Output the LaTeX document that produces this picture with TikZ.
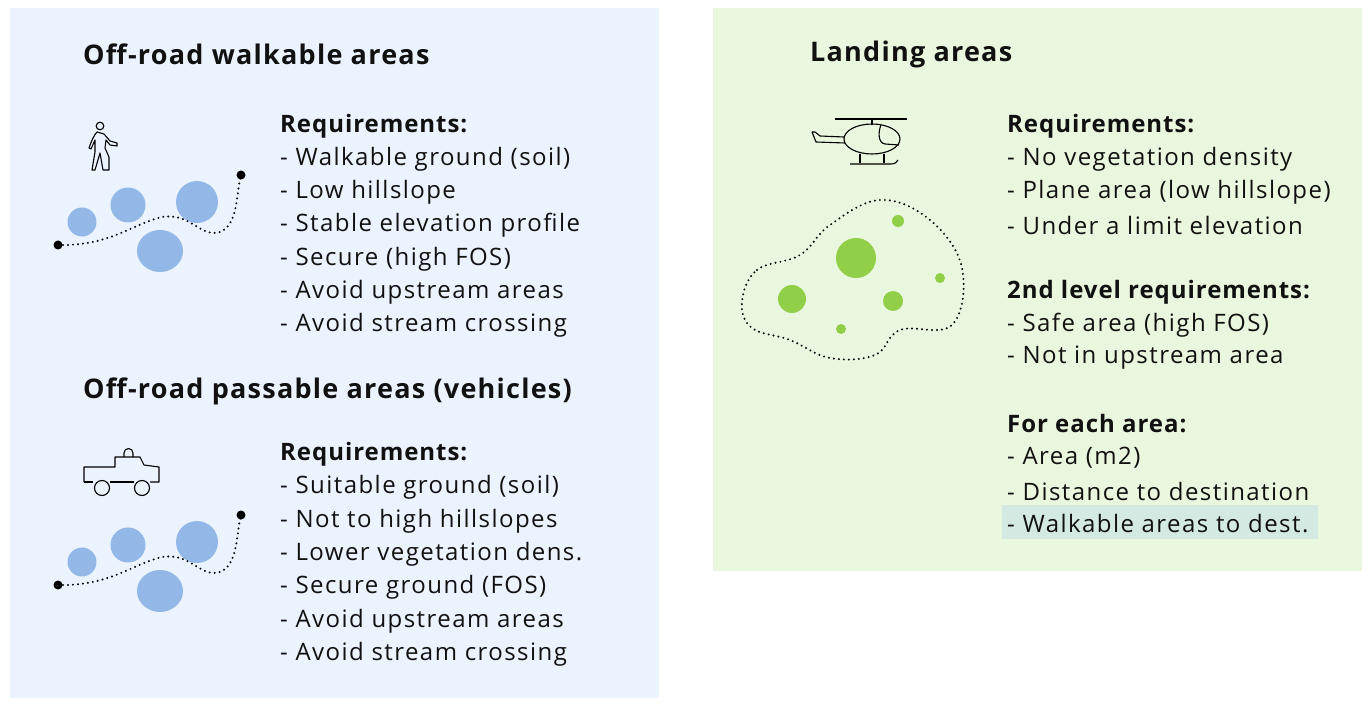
\documentclass[tikz,border=0pt]{standalone}
\usepackage{fontspec}
\setmainfont{Open Sans}
\definecolor{bluebg}{HTML}{EBF3FE}
\definecolor{greenbg}{HTML}{EAF7DF}
\definecolor{hl}{HTML}{D5E9E3}
\definecolor{bcirc}{HTML}{93B8E8}
\definecolor{gcirc}{HTML}{92CF48}
\definecolor{txt}{HTML}{111111}
\begin{document}
\begin{tikzpicture}[x=1pt,y=-1pt,
 head/.style={anchor=west,font=\addfontfeatures{LetterSpace=4.6}\fontsize{27}{30}\selectfont\bfseries,text=txt,inner sep=0},
 sub/.style={anchor=west,font=\addfontfeatures{LetterSpace=4}\fontsize{24}{26}\selectfont\bfseries,text=txt,inner sep=0},
 item/.style={anchor=west,font=\addfontfeatures{LetterSpace=6}\fontsize{24}{26}\selectfont,text=txt,inner sep=0},
 pathdot/.style={line width=2.2pt,dash pattern=on 0pt off 5pt,line cap=round},
 icon/.style={line width=1.1pt,line join=round}]
\useasboundingbox (0,0) rectangle (1370,708);
\fill[bluebg] (10,8) rectangle (659,698);
\fill[greenbg] (713,8) rectangle (1362,571);
\fill[hl] (1002,505) rectangle (1318,539);
\begin{scope}[yshift=-2]
% left texts
\node[head] (h1) at (83,52) {Off-road walkable areas};
\node[sub] (r1) at (280,124) {Requirements:};
\foreach \t [count=\i] in {Walkable ground (soil),Low hillslope,Stable elevation profile,Secure (high FOS),Avoid upstream areas,Avoid stream crossing}
  \node[item] (a\i) at (280,124+33.2*\i) {- \t};
\node[head] (h2) at (83,389) {Off-road passable areas (vehicles)};
\node[sub] (r2) at (280,452) {Requirements:};
\foreach \t [count=\i] in {Suitable ground (soil),Not to high hillslopes,Lower vegetation dens.,Secure ground (FOS),Avoid upstream areas,Avoid stream crossing}
  \node[item] (b\i) at (280,452+33.4*\i) {- \t};
% right texts
\node[head] (h3) at (810,52) {Landing areas};
\node[sub] (r3) at (1007,124) {Requirements:};
\foreach \t [count=\i] in {No vegetation density,Plane area (low hillslope),Under a limit elevation}
  \node[item] (c\i) at (1007,124+33.2*\i) {- \t};
\node[sub] (r4) at (1007,290) {2nd level requirements:};
\node[item] (d1) at (1007,323) {- Safe area (high FOS)};
\node[item] (d2) at (1007,356) {- Not in upstream area};
\node[sub] (r5) at (1007,422) {For each area:};
\node[item] (e1) at (1007,456) {- Area (m2)};
\node[item] (e2) at (1007,489) {- Distance to destination};
\node[item] (e3) at (1007,522) {- Walkable areas to dest.};
\end{scope}
% route drawings
\foreach \dy in {0,340}{
 \begin{scope}[yshift=-\dy]
 \fill[bcirc] (82,222) circle (14.5);
 \fill[bcirc] (128,205) circle (17.5);
 \fill[bcirc] (197,202) circle (21);
 \fill[bcirc] (160,251) ellipse (23 and 21);
 \draw[pathdot] (58,245) .. controls (110,246) and (130,225) .. (162,217) .. controls (190,212) and (200,238) .. (220,232) .. controls (238,225) and (236,195) .. (241,175);
 \fill (58,245) circle (4.5);
 \fill (241,175) circle (4.5);
 \end{scope}}
% walker
\begin{scope}[icon]
 \draw (100,126) circle (3.8);
 \draw (97,132) .. controls (94,135) and (91,142) .. (89,148) -- (91,149) -- (95,140) -- (95,152) -- (92,170) -- (95,170) -- (100,153) -- (103,170) -- (109,170) -- (109,157) -- (105,148) -- (106,140) -- (110,145) -- (117,146) -- (117,143) -- (110,141) -- (104,134) -- cycle;
\end{scope}
% car
\begin{scope}[icon]
 \draw (84,482) -- (84,467) -- (115,467) -- (115,457) -- (140,457) -- (144,465) -- (159,467) -- (159,482) -- (150,482);
 \draw (134,482) -- (110,482);
 \draw (93,482) -- (84,482);
 \draw (102,488) circle (7.5);
 \draw (142,488) circle (7.5);
 \draw (124,457) -- (124,453) arc[start angle=180,end angle=360,radius=4.5] -- (133,457);
\end{scope}
% helicopter
\begin{scope}[icon]
 \draw (835,119) -- (907,119);
 \draw (872,119) -- (872,125);
 \draw (872,139) ellipse (28 and 15);
 \draw (881,125) .. controls (878,132) and (878,143) .. (885,144) -- (899,145);
 \draw (844,137) -- (820,136) -- (815,132) -- (812,132) -- (816,142) -- (845,143);
 \draw (860,154) -- (860,163);
 \draw (884,154) -- (884,163);
 \draw (850,164) -- (891,164) .. controls (895,164) and (897,162) .. (898,160);
\end{scope}
% landing blob
\fill[gcirc] (856,258) circle (20);
\fill[gcirc] (792,299) circle (14);
\fill[gcirc] (893,301) circle (10);
\fill[gcirc] (898,221) circle (6);
\fill[gcirc] (940,278) circle (5);
\fill[gcirc] (841,329) circle (5);
\draw[pathdot] plot[smooth cycle,tension=0.65] coordinates {(742,302) (757,270) (800,255) (830,225) (880,200) (930,220) (962,268) (952,325) (900,330) (875,355) (830,358) (790,340) (752,328)};
\end{tikzpicture}
\end{document}
